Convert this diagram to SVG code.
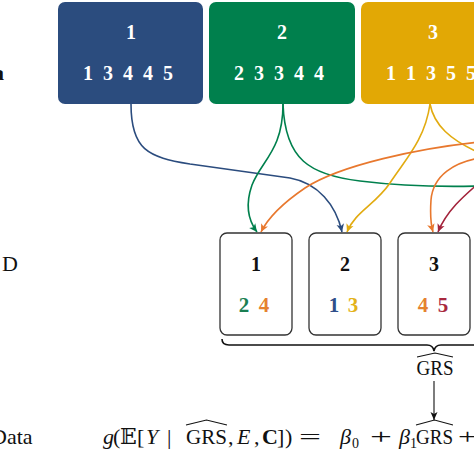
<svg xmlns="http://www.w3.org/2000/svg" width="474" height="474" viewBox="0 0 474 474">
<style>
  text { font-family: "Liberation Serif", "DejaVu Serif", serif; }
  .lbl { font-size: 22px; fill: #111; }
  .tn { font-size: 20px; font-weight: bold; fill: #fff; }
  .bn { font-size: 20px; font-weight: bold; fill: #111; }
  .bd { font-size: 21px; font-weight: bold; }
  .eq { font-size: 22px; fill: #111; }
  .it { font-style: italic; }
  .sub { font-size: 14px; fill: #111; }
  .wire { fill: none; stroke-width: 1.6; }
  .hat { fill: none; stroke: #111; stroke-width: 1.1; }
  .sbox { fill: #fff; stroke: #333; stroke-width: 1.3; }
</style>
<defs>
  <marker id="m-blue" viewBox="-9 -5 10 10" refX="0" refY="0" markerWidth="10" markerHeight="10" markerUnits="userSpaceOnUse" orient="auto"><path d="M0,0 L-8,-3.8 L-6,0 L-8,3.8 z" fill="#2b4c7e"/></marker>
  <marker id="m-green" viewBox="-9 -5 10 10" refX="0" refY="0" markerWidth="10" markerHeight="10" markerUnits="userSpaceOnUse" orient="auto"><path d="M0,0 L-8,-3.8 L-6,0 L-8,3.8 z" fill="#00804d"/></marker>
  <marker id="m-yellow" viewBox="-9 -5 10 10" refX="0" refY="0" markerWidth="10" markerHeight="10" markerUnits="userSpaceOnUse" orient="auto"><path d="M0,0 L-8,-3.8 L-6,0 L-8,3.8 z" fill="#e2ab10"/></marker>
  <marker id="m-orange" viewBox="-9 -5 10 10" refX="0" refY="0" markerWidth="10" markerHeight="10" markerUnits="userSpaceOnUse" orient="auto"><path d="M0,0 L-8,-3.8 L-6,0 L-8,3.8 z" fill="#e8782e"/></marker>
  <marker id="m-red" viewBox="-9 -5 10 10" refX="0" refY="0" markerWidth="10" markerHeight="10" markerUnits="userSpaceOnUse" orient="auto"><path d="M0,0 L-8,-3.8 L-6,0 L-8,3.8 z" fill="#a3233b"/></marker>
  <marker id="m-black" viewBox="-9 -5 10 10" refX="0" refY="0" markerWidth="10" markerHeight="10" markerUnits="userSpaceOnUse" orient="auto"><path d="M0,0 L-8,-3.5 L-6,0 L-8,3.5 z" fill="#111"/></marker>
</defs>

<!-- row labels (clipped at left edge) -->
<g id="labels">
  <text class="lbl" x="4" y="80" text-anchor="end" font-weight="bold">a</text>
  <text class="lbl" x="2" y="271">D</text>
  <text class="lbl" x="-9" y="444">Data</text>
</g>

<!-- top source boxes -->
<g id="src1">
  <rect x="58" y="2" width="145" height="102" rx="7" fill="#2b4c7e"/>
  <text class="tn" x="131" y="39" text-anchor="middle">1</text>
  <text class="tn" x="88 108 128 148 168" y="80" text-anchor="middle">13445</text>
</g>
<g id="src2">
  <rect x="209" y="2" width="146" height="102" rx="7" fill="#00804d"/>
  <text class="tn" x="282" y="39" text-anchor="middle">2</text>
  <text class="tn" x="239 259 279 299 319" y="80" text-anchor="middle">23344</text>
</g>
<g id="src3">
  <rect x="361" y="2" width="146" height="102" rx="7" fill="#e2a805"/>
  <text class="tn" x="433" y="39" text-anchor="middle">3</text>
  <text class="tn" x="391 411 431 451 471" y="80" text-anchor="middle">11355</text>
</g>

<!-- connectors -->
<g id="connectors">
  <path class="wire" stroke="#2b4c7e" marker-end="url(#m-blue)" d="M131,104 C131,150 148,157 190,164 L290,178 C318,183 336,205 342,232"/>
  <path class="wire" stroke="#00804d" marker-end="url(#m-green)" d="M283,104 C283,150 262,160 252,185 C245,205 248,220 257,232"/>
  <path class="wire" stroke="#00804d" d="M283,104 C285,160 310,175 360,181 C400,186 440,187 480,186"/>
  <path class="wire" stroke="#e2ab10" marker-end="url(#m-yellow)" d="M430,104 C425,140 405,160 390,183 C375,205 355,212 347,232"/>
  <path class="wire" stroke="#e2ab10" d="M430,104 C434,125 450,140 480,153"/>
  <path class="wire" stroke="#e8782e" marker-end="url(#m-orange)" d="M480,142 C420,148 340,165 305,188 C280,205 268,218 261,232"/>
  <path class="wire" stroke="#e8782e" marker-end="url(#m-orange)" d="M480,158 C455,162 433,175 431,200 C430,215 431,225 433,232"/>
  <path class="wire" stroke="#a3233b" marker-end="url(#m-red)" d="M480,182 C465,195 447,210 438,232"/>
  <path fill="none" stroke="#111" stroke-width="1.1" marker-end="url(#m-black)" d="M434,381 L434,420"/>
</g>

<!-- bottom target boxes -->
<g id="dst1">
  <rect class="sbox" x="220" y="233" width="72" height="102" rx="7"/>
  <text class="bn" x="256" y="271" text-anchor="middle">1</text>
  <text class="bd" x="244" y="312" text-anchor="middle" fill="#1a7f52">2</text>
  <text class="bd" x="264" y="312" text-anchor="middle" fill="#e5822f">4</text>
</g>
<g id="dst2">
  <rect class="sbox" x="309" y="233" width="72" height="102" rx="7"/>
  <text class="bn" x="345" y="271" text-anchor="middle">2</text>
  <text class="bd" x="334" y="312" text-anchor="middle" fill="#2f4f8a">1</text>
  <text class="bd" x="353" y="312" text-anchor="middle" fill="#e3b21a">3</text>
</g>
<g id="dst3">
  <rect class="sbox" x="398" y="233" width="72" height="102" rx="7"/>
  <text class="bn" x="434" y="271" text-anchor="middle">3</text>
  <text class="bd" x="423" y="312" text-anchor="middle" fill="#e5822f">4</text>
  <text class="bd" x="443" y="312" text-anchor="middle" fill="#a8283e">5</text>
</g>

<!-- brace and GRS label -->
<g id="brace">
  <path fill="none" stroke="#111" stroke-width="1.6" d="M222,339 Q222,345 229,345 L427,345 Q433,345 434,351 Q435,345 441,345 L480,345"/>
</g>
<g id="grs">
  <path class="hat" d="M417,357 L435,353 L453,357"/>
  <text class="eq" x="435" y="375" text-anchor="middle" textLength="37" lengthAdjust="spacingAndGlyphs" font-size="21">GRS</text>
</g>

<!-- equation -->
<g id="equation">
  <text class="eq it" x="103" y="444">g</text>
  <text class="eq" x="113" y="444">(</text>
  <text class="eq" x="120" y="444" font-family="DejaVu Sans, sans-serif" font-size="20">𝔼</text>
  <text class="eq" x="137" y="444">[</text>
  <text class="eq it" x="146" y="444">Y</text>
  <text class="eq" x="167" y="444">|</text>
  <path class="hat" d="M186,425 L206.5,420 L227,425"/>
  <text class="eq" x="186" y="444" textLength="41" lengthAdjust="spacingAndGlyphs">GRS</text>
  <text class="eq" x="228" y="444">,</text>
  <text class="eq it" x="237" y="444">E</text>
  <text class="eq" x="254" y="444">,</text>
  <text class="eq" x="262" y="444" font-weight="bold">C</text>
  <text class="eq" x="277" y="444">]</text>
  <text class="eq" x="285" y="444">)</text>
  <text class="eq" x="299" y="444" textLength="22" lengthAdjust="spacingAndGlyphs">=</text>
  <text class="eq it" x="340" y="444">β</text>
  <text class="sub" x="352" y="448">0</text>
  <text class="eq" x="370" y="444" textLength="22" lengthAdjust="spacingAndGlyphs">+</text>
  <text class="eq it" x="399" y="444">β</text>
  <text class="sub" x="410" y="448">1</text>
  <path class="hat" d="M416,425 L434.5,420 L453,425"/>
  <text class="eq" x="416" y="444" textLength="37" lengthAdjust="spacingAndGlyphs">GRS</text>
  <text class="eq" x="458" y="444" textLength="19" lengthAdjust="spacingAndGlyphs">+</text>
</g>
</svg>
